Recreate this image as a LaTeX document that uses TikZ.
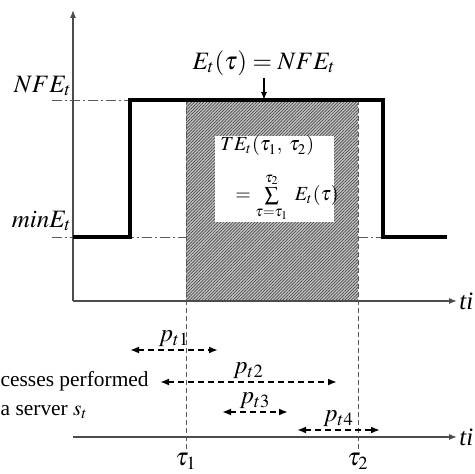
\documentclass[tikz,border=0pt]{standalone}
\usepackage{mathptmx}
\usepackage[no-math]{fontspec}
\setmainfont{Liberation Serif}
\usetikzlibrary{arrows.meta,positioning,patterns.meta}

\begin{document}
\begin{tikzpicture}[
    x=0.5pt, y=-0.5pt,
    axis/.style={draw=gray!60!black, line width=0.6pt, -{Latex[length=4pt,width=3pt]}},
    level/.style={draw=gray!70!black, line width=0.4pt, dash pattern=on 5pt off 1.5pt on 1pt off 1.5pt},
    tauline/.style={draw=gray!70!black, line width=0.4pt, dash pattern=on 2.5pt off 1.5pt},
    energy/.style={draw=black, line width=1.6pt},
    period/.style={draw=black, line width=1pt, dash pattern=on 3pt off 2pt,
      {Latex[length=4.5pt,width=3.5pt]}-{Latex[length=4.5pt,width=3.5pt]}},
    lbl/.style={font=\fontsize{12.5}{15}\selectfont, inner sep=1pt},
    small/.style={font=\fontsize{10.7}{13}\selectfont, inner sep=1pt},
    boxtext/.style={font=\fontsize{10}{12}\selectfont, inner sep=0pt}
  ]
    \useasboundingbox (0,0) rectangle (474,474);

    % axes and levels
    \coordinate (o) at (73,301);
    \coordinate (ytop) at (73,10);
    \coordinate (xend) at (457,301);
    \coordinate (o2) at (73,437);
    \coordinate (xend2) at (457,437);

    \coordinate (nfel) at (52,100);
    \coordinate (minl) at (52,237);
    \coordinate (s0) at (73,237);
    \coordinate (s1) at (130,237);
    \coordinate (s2) at (130,100);
    \coordinate (s3) at (383,100);
    \coordinate (s4) at (383,237);
    \coordinate (s5) at (447,237);

    \coordinate (t1top) at (186,100);
    \coordinate (t2top) at (358,100);

    \draw[level] (nfel) -- (s2);
    \draw[level] (minl) -- (s4);

    % shaded energy between tau1 and tau2
    \fill[gray!45] (t1top) rectangle (t2top |- o);
    \fill[pattern={Lines[angle=45,distance=1.1pt,line width=0.35pt]}, pattern color=gray!55!black]
      (t1top) rectangle (t2top |- o);
    \fill[white] (215,136) rectangle (334,222);

    \node[boxtext, anchor=west] (te) at (220,146) {$TE_t(\tau_1,\;\tau_2)$};
    \node[boxtext, anchor=west] (sum) at (235,197) {$=\sum\limits_{\tau=\tau_1}^{\tau_2}\;E_t(\tau)$};

    \node[lbl] (tau1) at (186,461) {$\tau_1$};
    \node[lbl] (tau2) at (358,461) {$\tau_2$};
    \draw[tauline] (t1top) -- (tau1.north);
    \draw[tauline] (t2top) -- (tau2.north);

    \draw[axis] (o) -- (ytop);
    \draw[axis] (o) -- (xend);
    \draw[axis] (o2) -- (xend2);
    \node[lbl, anchor=west] (xlab) at (xend) {\textit{ti}};
    \node[lbl, anchor=west] (xlab2) at (xend2) {\textit{ti}};

    \draw[energy] (s0) -- (s1) -- (s2) -- (s3) -- (s4) -- (s5);

    \node[lbl, anchor=east] (nfe) at (74,86) {$NFE_t$};
    \node[lbl, anchor=east] (mine) at (74,221) {$minE_t$};
    \node[lbl] (etop) at (264,63) {$E_t(\tau) = NFE_t$};
    \coordinate (hit) at (264,100);
    \draw[-{Latex[length=4pt,width=3pt]}, line width=0.6pt] (etop.south) -- (hit);

    % processes on the server
    \coordinate (p1s) at (130,350);
    \coordinate (p1e) at (218,350);
    \coordinate (p2s) at (160,382);
    \coordinate (p2e) at (337,382);
    \coordinate (p3s) at (222,412);
    \coordinate (p3e) at (288,412);
    \coordinate (p4s) at (297,430);
    \coordinate (p4e) at (380,430);

    \draw[period] (p1s) -- node[lbl, above=0pt] (p1) {$p_{t1}$} (p1e);
    \draw[period] (p2s) -- node[lbl, above=0pt] (p2) {$p_{t2}$} (p2e);
    \draw[period] (p3s) -- node[lbl, above=0pt] (p3) {$p_{t3}$} (p3e);
    \draw[period] (p4s) -- node[lbl, above=0pt] (p4) {$p_{t4}$} (p4e);

    \node[small, anchor=east] (proc) at (151,381) {cesses performed};
    \node[small, anchor=east] (srv) at (90,412) {a server $s_t$};
  \end{tikzpicture}
\end{document}
